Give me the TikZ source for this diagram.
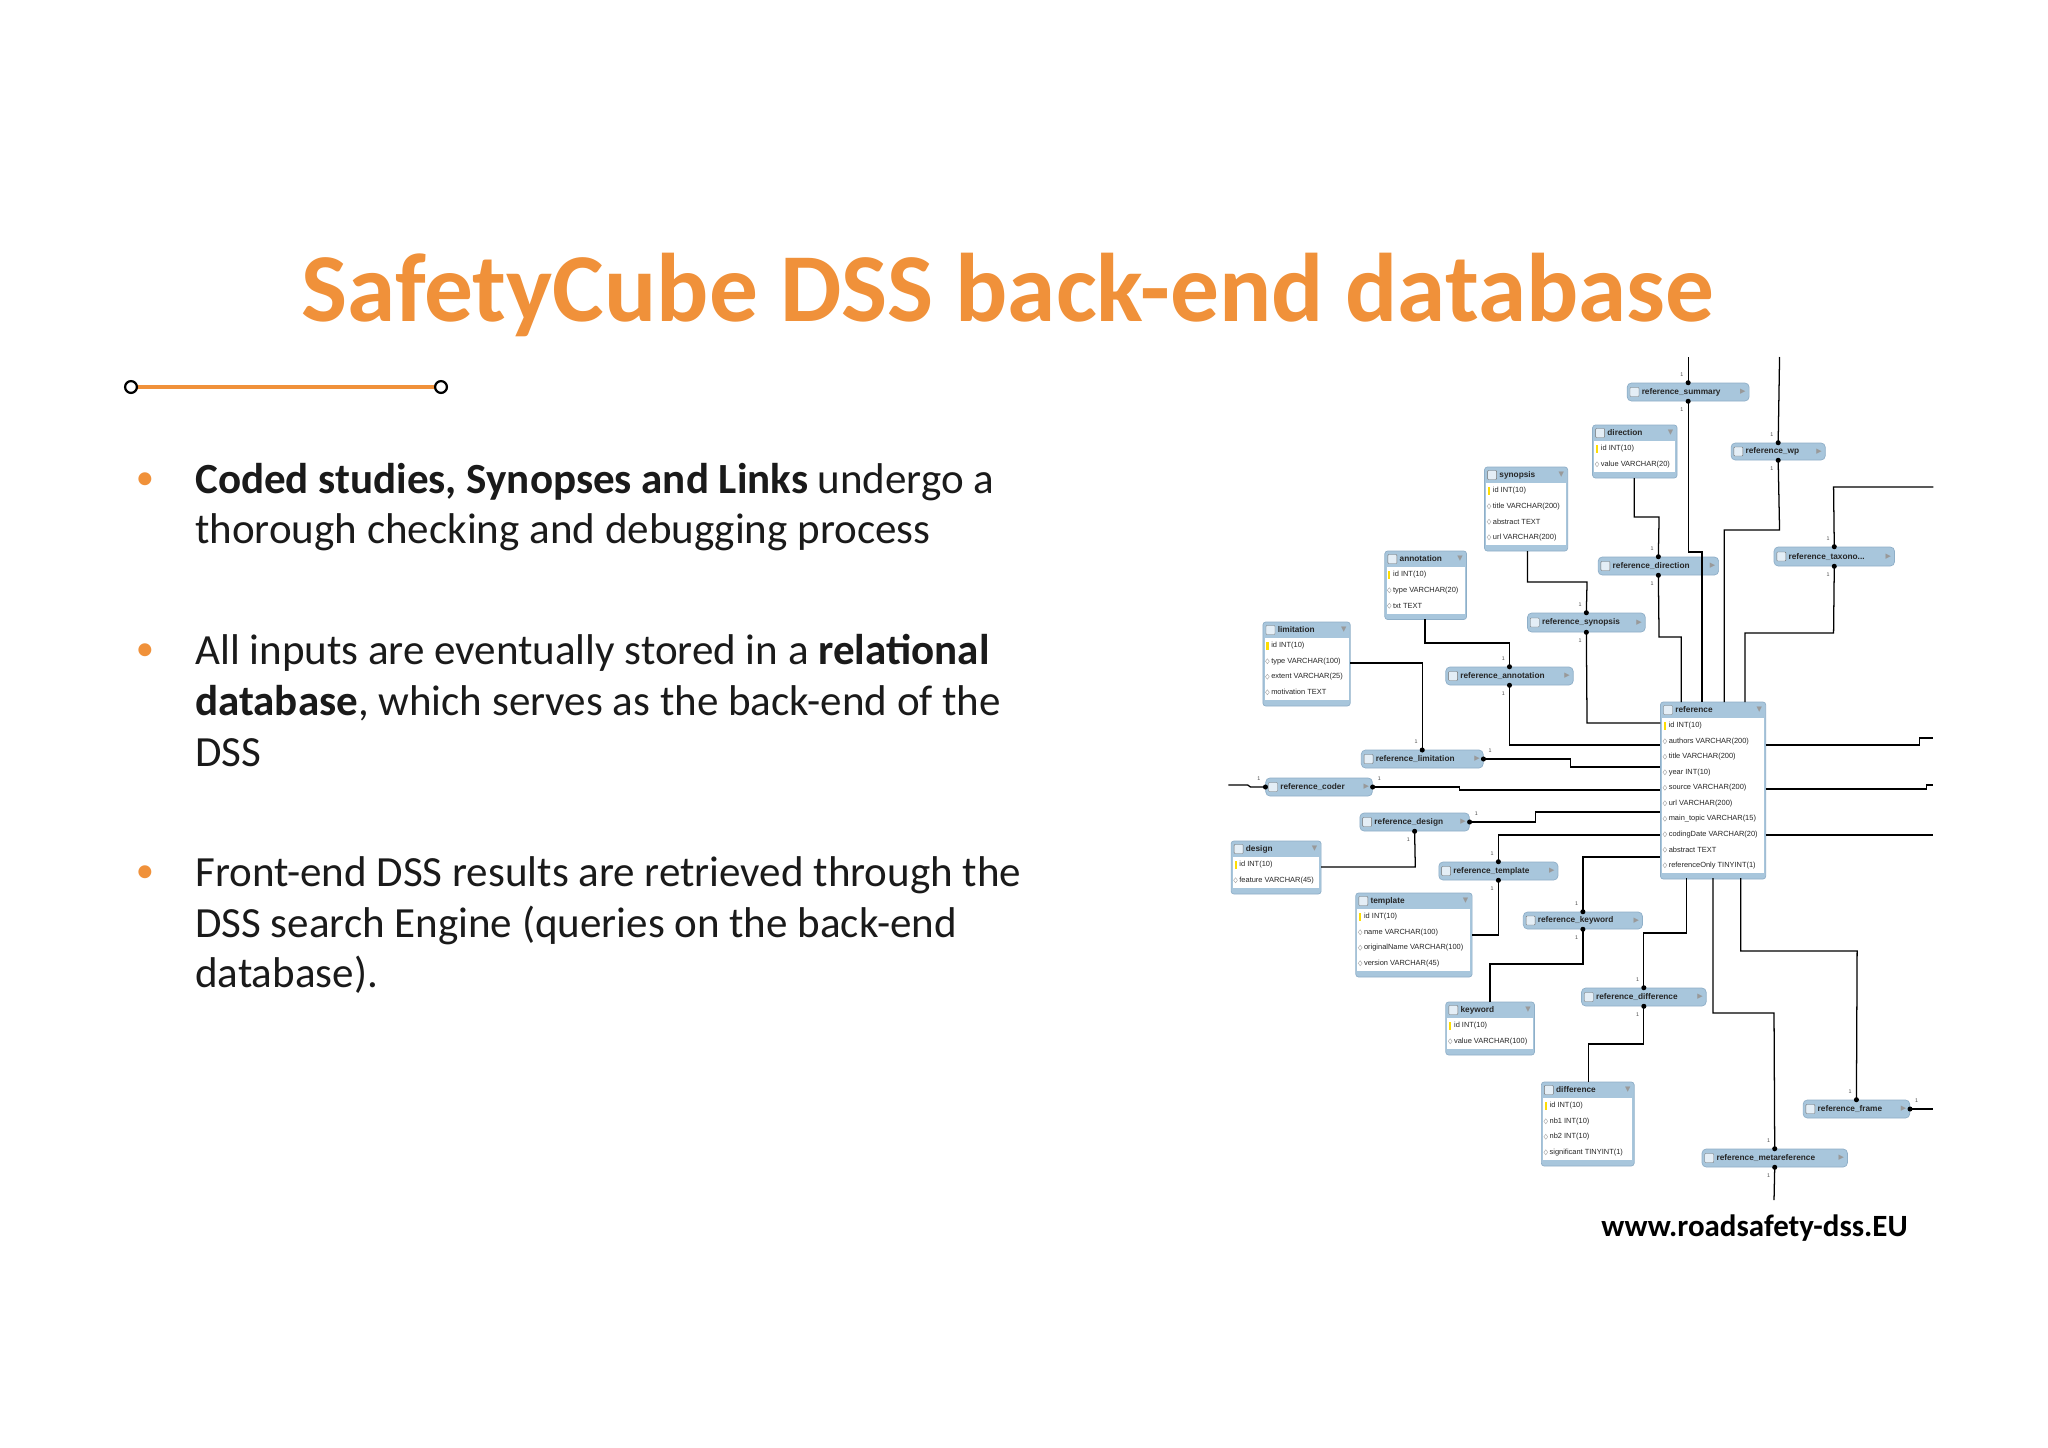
\documentclass[tikz,border=0pt]{standalone}
\usepackage{fontspec}
\setmainfont{Carlito}
\newfontfamily\erfont{Liberation Sans}
\newfontfamily\symfont{DejaVu Sans}
\usetikzlibrary{calc,fit}
\definecolor{ttl}{HTML}{F0913A}
\definecolor{relfill}{HTML}{A8C6DC}
\definecolor{reldraw}{HTML}{8FAFC8}
\definecolor{erblue}{HTML}{A8C6DC}
\definecolor{iconfill}{HTML}{E4EEF6}
\definecolor{bodytxt}{HTML}{1A1A1A}
\tikzset{
  x=0.25mm, y=-0.25mm,
  conn/.style={line width=0.9pt, black},
  reltxt/.style={font=\erfont\bfseries\fontsize{5.9}{6}\selectfont, inner sep=0, text=black!85},
  rowtxt/.style={font=\erfont\fontsize{5.3}{6}\selectfont, inner sep=0, anchor=west, text=black!85},
  hdrtxt/.style={font=\erfont\bfseries\fontsize{5.9}{6}\selectfont, inner sep=0, anchor=west, text=black!85},
  arrtxt/.style={font=\symfont\fontsize{5}{5}\selectfont, inner sep=0, text=black!40},
  onetxt/.style={font=\erfont\fontsize{3.8}{4}\selectfont, inner sep=0, text=black!70},
  bodyline/.style={font=\fontsize{30.6}{36}\selectfont, anchor=west, inner sep=0, text=bodytxt},
  bul/.style={font=\fontsize{26}{30}\selectfont, inner sep=0, text=ttl},
}
\newcommand\relnode[6]{%
  \filldraw[fill=relfill, draw=reldraw, line width=0.5pt, rounded corners=3] (#2,#3) rectangle (#4,#5);
  \coordinate (#1-a) at (#2,#3); \coordinate (#1-b) at (#4,#5);
  \node[fit=(#1-a)(#1-b), inner sep=0] (#1) {};
  \filldraw[fill=iconfill, draw=black!55, line width=0.3pt, rounded corners=0.6] ($(#1.west)+(2.2,-4.5)$) rectangle ($(#1.west)+(8.7,4.5)$);
  \node[reltxt, anchor=west] at ($(#1.west)+(10.5,0)$) {#6};
  \node[arrtxt, anchor=east] at ($(#1.east)+(-2.5,0)$) {▶};
}
\newcommand\erent[7]{%
  \pgfmathsetmacro\ybot{#3+16+#6*15.5+6}
  \pgfmathsetmacro\ywb{#3+16+#6*15.5}
  \filldraw[fill=erblue, draw=reldraw, line width=0.5pt, rounded corners=2] (#2,#3) rectangle (#4,\ybot);
  \fill[white] (#2+1.2,#3+16) rectangle (#4-1.2,\ywb);
  \coordinate (#1-a) at (#2,#3); \coordinate (#1-b) at (#4,\ybot);
  \node[fit=(#1-a)(#1-b), inner sep=0] (#1) {};
  \filldraw[fill=iconfill, draw=black!55, line width=0.3pt, rounded corners=0.6] (#2+2.2,#3+3.5) rectangle (#2+8.7,#3+12.5);
  \node[hdrtxt] at (#2+10.5,#3+8) {#5};
  \node[arrtxt, anchor=east] at (#4-2.5,#3+8) {▼};
  \foreach \r [count=\i] in {#7} {
    \pgfmathsetmacro\yy{#3+16+(\i-0.5)*15.5}
    \ifnum\i=1
      \fill[yellow!80!orange] (#2+2.5,\yy-4) rectangle (#2+4,\yy+4);
    \else
      \draw[black!35, line width=0.3pt] (#2+1.8,\yy) -- (#2+3.2,\yy-2.5) -- (#2+4.6,\yy) -- (#2+3.2,\yy+2.5) -- cycle;
    \fi
    \node[rowtxt] at (#2+5.8,\yy) {\r};
  }
}
\begin{document}
\begin{tikzpicture}
\useasboundingbox (0,0) rectangle (2048,1448);
\fill[white] (0,0) rectangle (2048,1448);

% title
\node[font=\bfseries\fontsize{69.3}{80}\selectfont, text=ttl, inner sep=0] (title) at (1008,295) {SafetyCube DSS back-end database};
\draw[ttl, line width=2.2pt] (131,387) -- (441,387);
\draw[black, line width=1.6pt, fill=white] (131,387) circle (4.2pt);
\draw[black, line width=1.6pt, fill=white] (441,387) circle (4.2pt);

% bullets
\node[bul] at (145,481) {•};
\node[bodyline] (b1a) at (195,482) {\textbf{Coded studies, Synopses and Links} undergo a};
\node[bodyline] (b1b) at (195,532) {thorough checking and debugging process};
\node[bul] at (145,652) {•};
\node[bodyline] (b2a) at (195,653) {All inputs are eventually stored in a \textbf{relational}};
\node[bodyline] (b2b) at (195,703) {\textbf{database}, which serves as the back-end of the};
\node[bodyline] (b2c) at (195,753) {DSS};
\node[bul] at (145,874) {•};
\node[bodyline] (b3a) at (195,875) {Front-end DSS results are retrieved through the};
\node[bodyline] (b3b) at (195,925) {DSS search Engine (queries on the back-end};
\node[bodyline] (b3c) at (195,975) {database).};

\node[font=\bfseries\fontsize{22}{26}\selectfont, anchor=east, inner sep=0] (url) at (1908,1228) {www.roadsafety-dss.EU};

\begin{scope}[x=0.34625mm, xshift=-117.425mm]
% ---------- entities ----------
\erent{ref}{1538}{702}{1614}{reference}{10}{id INT(10),authors VARCHAR(200),title VARCHAR(200),year INT(10),source VARCHAR(200),url VARCHAR(200),main\_topic VARCHAR(15),codingDate VARCHAR(20),abstract TEXT,referenceOnly TINYINT(1)}
\erent{dir}{1489}{425}{1550}{direction}{2}{id INT(10),value VARCHAR(20)}
\erent{syn}{1411}{467}{1471}{synopsis}{4}{id INT(10),title VARCHAR(200),abstract TEXT,url VARCHAR(200)}
\erent{ann}{1339}{551}{1398}{annotation}{3}{id INT(10),type VARCHAR(20),txt TEXT}
\erent{lim}{1251}{622}{1314}{limitation}{4}{id INT(10),type VARCHAR(100),extent VARCHAR(25),motivation TEXT}
\erent{des}{1228}{841}{1293}{design}{2}{id INT(10),feature VARCHAR(45)}
\erent{tem}{1318}{893}{1402}{template}{4}{id INT(10),name VARCHAR(100),originalName VARCHAR(100),version VARCHAR(45)}
\erent{key}{1383}{1002}{1447}{keyword}{2}{id INT(10),value VARCHAR(100)}
\erent{dif}{1452}{1082}{1519}{difference}{4}{id INT(10),nb1 INT(10),nb2 INT(10),significant TINYINT(1)}

% ---------- relation tables ----------
\relnode{rs}{1514}{383}{1602}{401}{reference\_summary}
\relnode{rwp}{1589}{443}{1657}{460}{reference\_wp}
\relnode{rdir}{1493}{557}{1580}{575}{reference\_direction}
\relnode{rtax}{1620}{547}{1707}{566}{reference\_taxono...}
\relnode{rsyn}{1442}{613}{1527}{632}{reference\_synopsis}
\relnode{rann}{1383}{667}{1475}{685}{reference\_annotation}
\relnode{rlim}{1322}{750}{1410}{768}{reference\_limitation}
\relnode{rcod}{1253}{778}{1330}{796}{reference\_coder}
\relnode{rdes}{1321}{813}{1400}{831}{reference\_design}
\relnode{rtem}{1378}{862}{1464}{880}{reference\_template}
\relnode{rkey}{1439}{912}{1525}{929}{reference\_keyword}
\relnode{rdif}{1481}{988}{1571}{1006}{reference\_difference}
\relnode{rfr}{1641}{1100}{1718}{1118}{reference\_frame}
\relnode{rmeta}{1568}{1149}{1673}{1167}{reference\_metareference}

% ---------- connectors ----------
\begin{scope}[conn]
\coordinate (topa) at (1558,357);
\coordinate (topb) at (1624,357);
\coordinate (rE) at (1735,487);
\coordinate (lE) at (1226,785);
\coordinate (frE) at (1735,1109);
\coordinate (mB) at (1620,1200);
\draw (topa) -- (rs.north);
\draw (rs.south) -- (1558,552) -- (1568,552) -- (1568,702);
\draw (topb) -- (rwp.north);
\draw (rwp.south) -- (1624,530) -- (1584,530) -- (1584,702);
\draw (1519,478) -- (1519,517) -- (1537,517) -- (rdir.north);
\draw (rdir.south) -- (1537,637) -- (1553,637) -- (1553,702);
\draw (rE) -- (1663,487) -- (rtax.north);
\draw (rtax.south) -- (1663,633) -- (1599,633) -- (1599,702);
\draw (1442,551) -- (1442,582) -- (1485,582) -- (rsyn.north);
\draw (rsyn.south) -- (1485,723) -- (1538,723);
\draw (1368,619) -- (1368,643) -- (1429,643) -- (rann.north);
\draw (rann.south) -- (1429,745) -- (1538,745);
\draw (1314,663) -- (1366,663) -- (1366,750);
\draw (rlim.east) -- (1473,759) -- (1473,767) -- (1538,767);
\draw (lE) -- (1240,785) -- (1242,787) -- (rcod.west);
\draw (rcod.east) -- (1393,787) -- (1393,790) -- (1538,790);
\draw (1614,745) -- (1725,745) -- (1725,738) -- (1735,738);
\draw (1614,789) -- (1730,789) -- (1730,785) -- (1735,785);
\draw (1614,835) -- (1735,835);
\draw (rdes.east) -- (1448,822) -- (1448,812) -- (1538,812);
\draw (1293,867) -- (1361,867) -- (rdes.south);
\draw (rtem.north) -- (1421,835) -- (1538,835);
\draw (1402,935) -- (1421,935) -- (rtem.south);
\draw (rkey.north) -- (1482,857) -- (1538,857);
\draw (1415,1002) -- (1415,964) -- (1482,964) -- (rkey.south);
\draw (1557,878) -- (1557,933) -- (1526,933) -- (rdif.north);
\draw (rdif.south) -- (1526,1044) -- (1486,1044) -- (1486,1082);
\draw (1576,878) -- (1576,1013) -- (1620,1013) -- (rmeta.north);
\draw (rmeta.south) -- (mB);
\draw (1596,878) -- (1596,951) -- (1680,951) -- (rfr.north);
\draw (rfr.east) -- (frE);
\end{scope}

% dots and cardinality labels
\foreach \n in {rs, rwp, rdir, rtax, rsyn, rann, rtem, rkey, rdif, rfr, rmeta}{
  \fill (\n.north) circle (1.8pt);
  \node[onetxt] at ($(\n.north)+(-4.5,-8)$) {1};
}
\foreach \n in {rs, rwp, rdir, rtax, rsyn, rann, rdes, rtem, rkey, rdif, rmeta}{
  \fill (\n.south) circle (1.8pt);
  \node[onetxt] at ($(\n.south)+(-4.5,8)$) {1};
}
\fill (1366,750) circle (1.8pt); \node[onetxt] at (1361.5,742) {1};
\fill (rlim.east) circle (1.8pt); \node[onetxt] at (1415,751) {1};
\fill (rcod.west) circle (1.8pt); \node[onetxt] at (1248,779) {1};
\fill (rcod.east) circle (1.8pt); \node[onetxt] at (1335,779) {1};
\fill (rdes.east) circle (1.8pt); \node[onetxt] at (1405,814) {1};
\fill (rfr.east) circle (1.8pt); \node[onetxt] at (1723,1101) {1};
\end{scope}
\end{tikzpicture}
\end{document}
